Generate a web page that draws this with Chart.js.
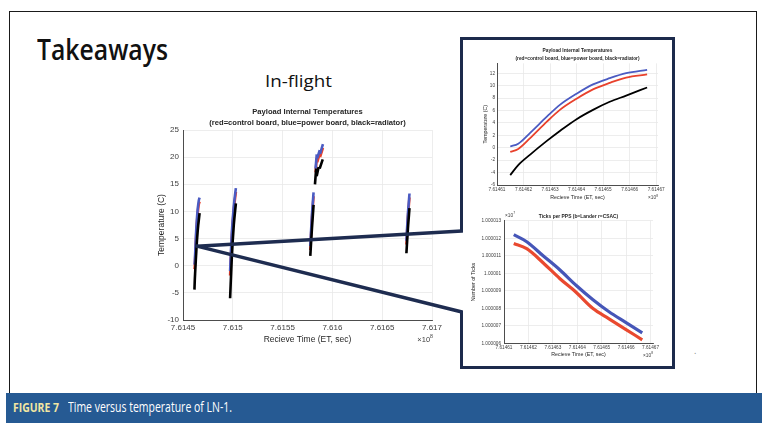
<!DOCTYPE html>
<html>
<head>
<meta charset="UTF-8" />
<script src="https://cdn.jsdelivr.net/npm/chart.js"></script>
<style>
  body { margin: 0; width: 768px; height: 442px; background: #fff; position: relative; overflow: hidden; }
  .abs { position: absolute; }
  .fit { position: absolute; white-space: nowrap; transform-origin: 0 0; line-height: 1; }
  #slide { left: 9px; top: 11px; width: 748px; height: 383px; border: 1px solid #1a1a1a; box-sizing: border-box; }
  #caption { left: 6px; top: 393px; width: 756px; height: 30px; background: #265a93; }
  #takeaways { left: 37px; top: 29px; font: 600 29px "Open Sans"; color: #111; }
  #inflight { left: 265px; top: 69px; font: 400 17px "Open Sans"; color: #111; }
  #figno { left: 13px; top: 399px; font: 700 12px "Open Sans"; color: #f2e6a2; }
  #figtext { left: 68px; top: 397px; font: 400 14px "Open Sans"; color: #fff; }
  #frame { left: 460px; top: 37px; width: 215px; height: 332px; border: 3px solid #1c2a4c; border-left: none; box-sizing: border-box; }
  .edge { left: 460px; width: 3px; background: #1c2a4c; }
  #dot { left: 694px; top: 344px; font: 9px "Open Sans"; color: #888; }
  canvas { position: absolute; }
</style>
</head>
<body>
  <div id="slide" class="abs"></div>
  <div id="caption" class="abs"></div>
  <div id="takeaways" class="fit">Takeaways</div>
  <div id="inflight" class="fit">In-flight</div>
  <div id="figno" class="fit">FIGURE 7</div>
  <div id="figtext" class="fit">Time versus temperature of LN-1.</div>
  <div id="frame" class="abs"></div>
  <div class="abs edge" style="top:37px;height:194px"></div>
  <div class="abs edge" style="top:312px;height:57px"></div>
  <div id="dot" class="abs">.</div>

  <canvas id="main" width="323" height="255" style="left:140px;top:100px"></canvas>
  <canvas id="temps" width="207" height="170" style="left:464px;top:40px"></canvas>
  <canvas id="pps" width="207" height="155" style="left:464px;top:210px"></canvas>

<script>
const FONT = '"Liberation Sans", Arial, Helvetica, sans-serif';
const INK = '#262626';
const BLUE = '#4b5bc2';
const RED = '#e8412c';
const BLACK = '#000000';

// time axis in units of 10^8 s
const mainXTicks = [7.6145, 7.615, 7.6155, 7.616, 7.6165, 7.617];
const mainYTicks = [-10, -5, 0, 5, 10, 15, 20, 25];

// first pass (also shown zoomed in the inset)
const passTime  = [7.614615, 7.614618, 7.6146225, 7.6146288, 7.6146337, 7.61464, 7.6146462, 7.6146525, 7.6146587, 7.6146666];
const passBlue  = [0.2, 0.65, 2.4, 5.0, 6.9, 8.7, 10.2, 11.2, 12.0, 12.55];
const passRed   = [-0.65, -0.2, 1.55, 4.2, 6.1, 7.9, 9.4, 10.45, 11.3, 11.8];
const passBlack = [-4.4, -2.8, -1.1, 1.1, 2.7, 4.6, 6.1, 7.4, 8.4, 9.7];

// later passes, null marks a gap
const laterTime      = [null, 7.614973, 7.61499, 7.61501, 7.615031, null, 7.615778, 7.615795, 7.615811, null, 7.615831, 7.615843, null, 7.615848, 7.615873, null, 7.615876, 7.615905, null, 7.616743, 7.616758, 7.616774];
const laterBlue      = [null, -1.0, 6.0, 11.0, 14.3, null, 3.6, 9.5, 13.5, null, 17.9, 20.5, null, 19.8, 21.3, null, 20.6, 22.4, null, 4.6, 9.5, 13.3];
const laterRed       = [null, -1.8, 5.2, 10.3, 13.6, null, 2.9, 8.8, 12.8, null, 17.2, 19.8, null, 19.1, 20.7, null, 20.0, 21.7, null, 3.9, 8.8, 12.6];
const laterBlackTime = [null, 7.614973, 7.61499, 7.61501, 7.615031, null, 7.615778, 7.615795, 7.615811, null, 7.615825, 7.615837, null, 7.615842, 7.615862, null, 7.615872, 7.615903, null, 7.616743, 7.616758, 7.616774];
const laterBlack     = [null, -6.0, 1.5, 7.5, 11.5, null, 1.8, 7.0, 11.2, null, 15.0, 17.9, null, 16.5, 18.2, null, 17.9, 19.6, null, 2.3, 6.8, 10.6];

// where the zoom callout starts (time, temp)
const calloutAt = [7.61464, 3.6];

// inset: temperatures
const insetXTicks = [7.61461, 7.61462, 7.61463, 7.61464, 7.61465, 7.61466, 7.61467];
const insetYTicks = [-6, -4, -2, 0, 2, 4, 6, 8, 10, 12];

// inset: ticks per PPS (x10^7)
const ppsTime   = [7.614614, 7.6146193, 7.614626, 7.6146328, 7.6146396, 7.6146463, 7.614653, 7.6146598, 7.6146666];
const ppsLander = [1.0000122, 1.0000118, 1.000011, 1.0000102, 1.0000093, 1.0000085, 1.0000078, 1.0000072, 1.0000066];
const ppsCsac   = [1.0000117, 1.0000114, 1.0000106, 1.0000097, 1.0000089, 1.000008, 1.0000074, 1.0000068, 1.0000062];
const ppsYTicks = [1.000006, 1.000007, 1.000008, 1.000009, 1.00001, 1.000011, 1.000012, 1.000013];

function points(t, v) {
  let last = t.find(x => x !== null);
  return t.map((x, i) => {
    if (x === null) return { x: last, y: null };
    last = x;
    return { x, y: v[i] };
  });
}

function series(data, color, width, order) {
  return {
    data, borderColor: color, borderWidth: width, pointRadius: 0, fill: false,
    cubicInterpolationMode: 'monotone', spanGaps: false, order,
  };
}

function axis(o) {
  return {
    type: 'linear',
    min: o.min,
    max: o.max,
    afterBuildTicks: ax => { ax.ticks = o.ticks.map(value => ({ value })); },
    afterFit: ax => {
      if (o.width) ax.width = o.width;
      if (o.height) ax.height = o.height;
    },
    grid: { color: '#e8e8e8', lineWidth: 0.8, drawTicks: false },
    border: { color: '#4d4d4d', width: 1 },
    ticks: {
      font: { family: FONT, size: o.tickSize },
      color: '#404040',
      padding: o.tickPad,
      maxRotation: 0,
      autoSkip: false,
      callback: v => o.fmt(v),
    },
    title: {
      display: true,
      text: o.title,
      font: { family: FONT, size: o.titleSize },
      color: INK,
      padding: o.titlePad,
    },
  };
}

function drawExp(ctx, pow, x, y, size, align) {
  ctx.font = `${size}px ${FONT}`;
  const w1 = ctx.measureText('\u00d710').width;
  ctx.font = `${size * 0.7}px ${FONT}`;
  const w2 = ctx.measureText(pow).width;
  const x0 = align === 'right' ? x - w1 - w2 : x;
  ctx.textAlign = 'left';
  ctx.textBaseline = 'middle';
  ctx.font = `${size}px ${FONT}`;
  ctx.fillText('\u00d710', x0, y);
  ctx.font = `${size * 0.7}px ${FONT}`;
  ctx.fillText(pow, x0 + w1, y - size * 0.45);
}

// titles and the x10^n marks, placed relative to the plot area
const headingPlugin = {
  id: 'heading',
  afterDraw(chart, args, opts) {
    const { ctx, chartArea: a } = chart;
    ctx.save();
    ctx.fillStyle = INK;
    ctx.textAlign = 'center';
    ctx.textBaseline = 'middle';
    ctx.font = `bold ${opts.size}px ${FONT}`;
    opts.lines.forEach((t, i) => ctx.fillText(t, (a.left + a.right) / 2, a.top + opts.offsets[i]));
    ctx.fillStyle = '#404040';
    (opts.exps || []).forEach(e => {
      if (e.at === 'x') drawExp(ctx, e.pow, a.right + e.dx, a.bottom + e.dy, e.size, 'right');
      else drawExp(ctx, e.pow, a.left + e.dx, a.top + e.dy, e.size, 'left');
    });
    ctx.restore();
  },
};

// zoom lines from the first pass to the inset
const calloutEnds = [131, 212];
const calloutPlugin = {
  id: 'callout',
  afterDraw(chart) {
    const { ctx, scales } = chart;
    const x0 = scales.x.getPixelForValue(calloutAt[0]);
    const y0 = scales.y.getPixelForValue(calloutAt[1]);
    ctx.save();
    ctx.strokeStyle = '#1e2c50';
    ctx.lineWidth = 3.5;
    ctx.lineCap = 'round';
    calloutEnds.forEach(y1 => {
      ctx.beginPath();
      ctx.moveTo(x0, y0);
      ctx.lineTo(chart.width - 1, y1);
      ctx.stroke();
    });
    ctx.restore();
  },
};

const base = { responsive: false, animation: false, events: [] };

// black on top, then blue, red underneath
new Chart(document.getElementById('main'), {
  type: 'line',
  data: {
    datasets: [
      series(points([...passTime, ...laterTime], [...passBlue, ...laterBlue]), BLUE, 2.6, 2),
      series(points([...passTime, ...laterTime], [...passRed, ...laterRed]), RED, 2.6, 3),
      series(points([...passTime, ...laterBlackTime], [...passBlack, ...laterBlack]), BLACK, 2.6, 1),
    ],
  },
  options: {
    ...base,
    layout: { padding: { top: 30, right: 31, left: 0, bottom: 0 } },
    plugins: {
      legend: { display: false },
      tooltip: { enabled: false },
      heading: {
        size: 7.6,
        lines: ['Payload Internal Temperatures', '(red=control board, blue=power board, black=radiator)'],
        offsets: [-18, -7],
        exps: [{ at: 'x', pow: '8', dx: 1, dy: 20, size: 7.5 }],
      },
    },
    scales: {
      x: axis({ min: 7.6145, max: 7.617, ticks: mainXTicks, height: 35, tickSize: 8, tickPad: 3,
        fmt: v => String(+v.toFixed(4)), title: 'Recieve Time (ET, sec)', titleSize: 8.5, titlePad: { top: 0, bottom: 10.5 } }),
      y: axis({ min: -10, max: 25, ticks: mainYTicks, width: 43, tickSize: 8, tickPad: 4,
        fmt: v => String(v), title: 'Temperature (C)', titleSize: 8.5, titlePad: { top: 17, bottom: 0 } }),
    },
  },
  plugins: [headingPlugin, calloutPlugin],
});

new Chart(document.getElementById('temps'), {
  type: 'line',
  data: {
    datasets: [
      series(points(passTime, passBlue), BLUE, 1.8, 3),
      series(points(passTime, passRed), RED, 1.8, 2),
      series(points(passTime, passBlack), BLACK, 1.8, 1),
    ],
  },
  options: {
    ...base,
    layout: { padding: { top: 23.3, right: 13, left: 0, bottom: 0 } },
    plugins: {
      legend: { display: false },
      tooltip: { enabled: false },
      heading: {
        size: 4.8,
        lines: ['Payload Internal Temperatures', '(red=control board, blue=power board, black=radiator)'],
        offsets: [-12.5, -4.5],
        exps: [{ at: 'x', pow: '8', dx: 0, dy: 13, size: 4.8 }],
      },
    },
    scales: {
      x: axis({ min: 7.61461, max: 7.6146707, ticks: insetXTicks, height: 25, tickSize: 4.7, tickPad: 2,
        fmt: v => v.toFixed(5), title: 'Recieve Time (ET, sec)', titleSize: 5.3, titlePad: { top: 0, bottom: 9.5 } }),
      y: axis({ min: -6, max: 13.6, ticks: insetYTicks, width: 33, tickSize: 4.7, tickPad: 2,
        fmt: v => String(v), title: 'Temperature (C)', titleSize: 5.3, titlePad: { top: 18, bottom: 0 } }),
    },
  },
  plugins: [headingPlugin],
});

new Chart(document.getElementById('pps'), {
  type: 'line',
  data: {
    datasets: [
      series(points(ppsTime, ppsLander), '#4656b8', 3.2, 2),
      series(points(ppsTime, ppsCsac), '#e9492f', 3.2, 1),
    ],
  },
  options: {
    ...base,
    layout: { padding: { top: 10.7, right: 18, left: 0, bottom: 0 } },
    plugins: {
      legend: { display: false },
      tooltip: { enabled: false },
      heading: {
        size: 4.9,
        lines: ['Ticks per PPS (b=Lander r=CSAC)'],
        offsets: [-4],
        exps: [
          { at: 'x', pow: '8', dx: 0, dy: 12.4, size: 4.8 },
          { at: 'y', pow: '7', dx: 1, dy: -5, size: 4.8 },
        ],
      },
    },
    scales: {
      x: axis({ min: 7.61461, max: 7.614671, ticks: insetXTicks, height: 21.7, tickSize: 4.7, tickPad: 2,
        fmt: v => v.toFixed(5), title: 'Recieve Time (ET, sec)', titleSize: 5.3, titlePad: { top: 0, bottom: 6.8 } }),
      y: axis({ min: 1.000006, max: 1.000013, ticks: ppsYTicks, width: 40, tickSize: 4.7, tickPad: 3,
        fmt: v => String(+v.toFixed(6)), title: 'Number of Ticks', titleSize: 5.3, titlePad: { top: 6, bottom: 0 } }),
    },
  },
  plugins: [headingPlugin],
});

// squeeze slide text to the measured widths of the original
function fitWidth(id, target) {
  const el = document.getElementById(id);
  const w = el.getBoundingClientRect().width;
  el.style.transform = `scaleX(${target / w})`;
}
fitWidth('takeaways', 131);
fitWidth('inflight', 67);
fitWidth('figno', 46);
fitWidth('figtext', 164);
</script>
</body>
</html>
